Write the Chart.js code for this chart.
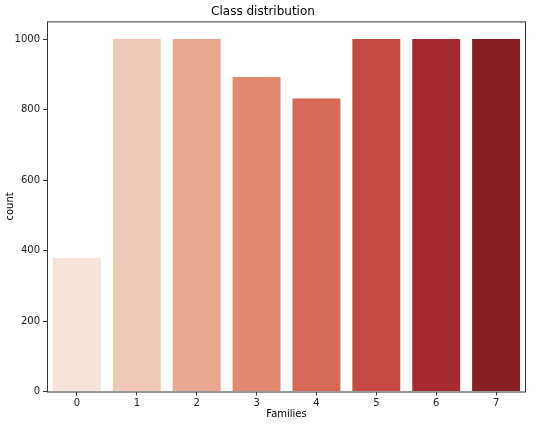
<!DOCTYPE html>
<html>
<head>
<meta charset="utf-8">
<script src="https://cdn.jsdelivr.net/npm/chart.js@4"></script>
<style>
  html, body { margin: 0; padding: 0; background: #fff; }
  #wrap { width: 543px; height: 428px; }
</style>
</head>
<body>
<div id="wrap"><canvas id="chart" width="543" height="428"></canvas></div>
<script>
// Class counts per family
const families = ["0", "1", "2", "3", "4", "5", "6", "7"];
const counts = [379, 1000, 1000, 892, 831, 1000, 1000, 1000];
const barColors = ["#f6e3da", "#efc7b6", "#e9a991", "#e08870", "#d66956", "#c44a42", "#a52b30", "#861f24"];
const yTicks = [0, 200, 400, 600, 800, 1000];

const font = "'DejaVu Sans', sans-serif";

// draw the four spines round the plot area
const framePlugin = {
  id: "frame",
  afterDatasetsDraw(chart) {
    const { ctx, chartArea: a } = chart;
    ctx.save();
    ctx.strokeStyle = "#333";
    ctx.lineWidth = 1;
    ctx.strokeRect(a.left + 0.5, a.top + 0.5, a.right - a.left - 1, a.bottom - a.top);
    ctx.restore();
  }
};

const ctx = document.getElementById("chart").getContext("2d");
new Chart(ctx, {
  type: "bar",
  data: {
    labels: families,
    datasets: [{
      data: counts,
      backgroundColor: barColors,
      borderWidth: 0,
      barPercentage: 0.8,
      categoryPercentage: 1.0
    }]
  },
  options: {
    responsive: false,
    animation: false,
    layout: { padding: { left: 0, right: 17, top: 0, bottom: 0 } },
    plugins: {
      legend: { display: false },
      tooltip: { enabled: false },
      title: {
        display: true,
        text: "Class distribution",
        color: "#000",
        font: { family: font, size: 12, weight: "normal" },
        padding: { top: 5, bottom: 2 }
      }
    },
    scales: {
      x: {
        grid: { display: true, drawOnChartArea: false, offset: false, tickLength: 4, color: "#333" },
        border: { display: false },
        ticks: { color: "#222", font: { family: font, size: 10 }, padding: 2 },
        title: { display: true, text: "Families", color: "#000", font: { family: font, size: 10 }, padding: { top: 0, bottom: 8 } },
        afterFit(scale) { scale.height = 36.5; }
      },
      y: {
        min: 0,
        max: 1050,
        grid: { display: true, drawOnChartArea: false, tickLength: 4, color: "#333" },
        border: { display: false },
        ticks: { color: "#222", font: { family: font, size: 10 }, padding: 3, callback: v => String(v) },
        afterBuildTicks(scale) { scale.ticks = yTicks.map(v => ({ value: v })); },
        title: { display: true, text: "count", color: "#000", font: { family: font, size: 10 }, padding: { bottom: 2 } },
        afterFit(scale) { scale.width = 47; }
      }
    }
  },
  plugins: [framePlugin]
});
</script>
</body>
</html>
